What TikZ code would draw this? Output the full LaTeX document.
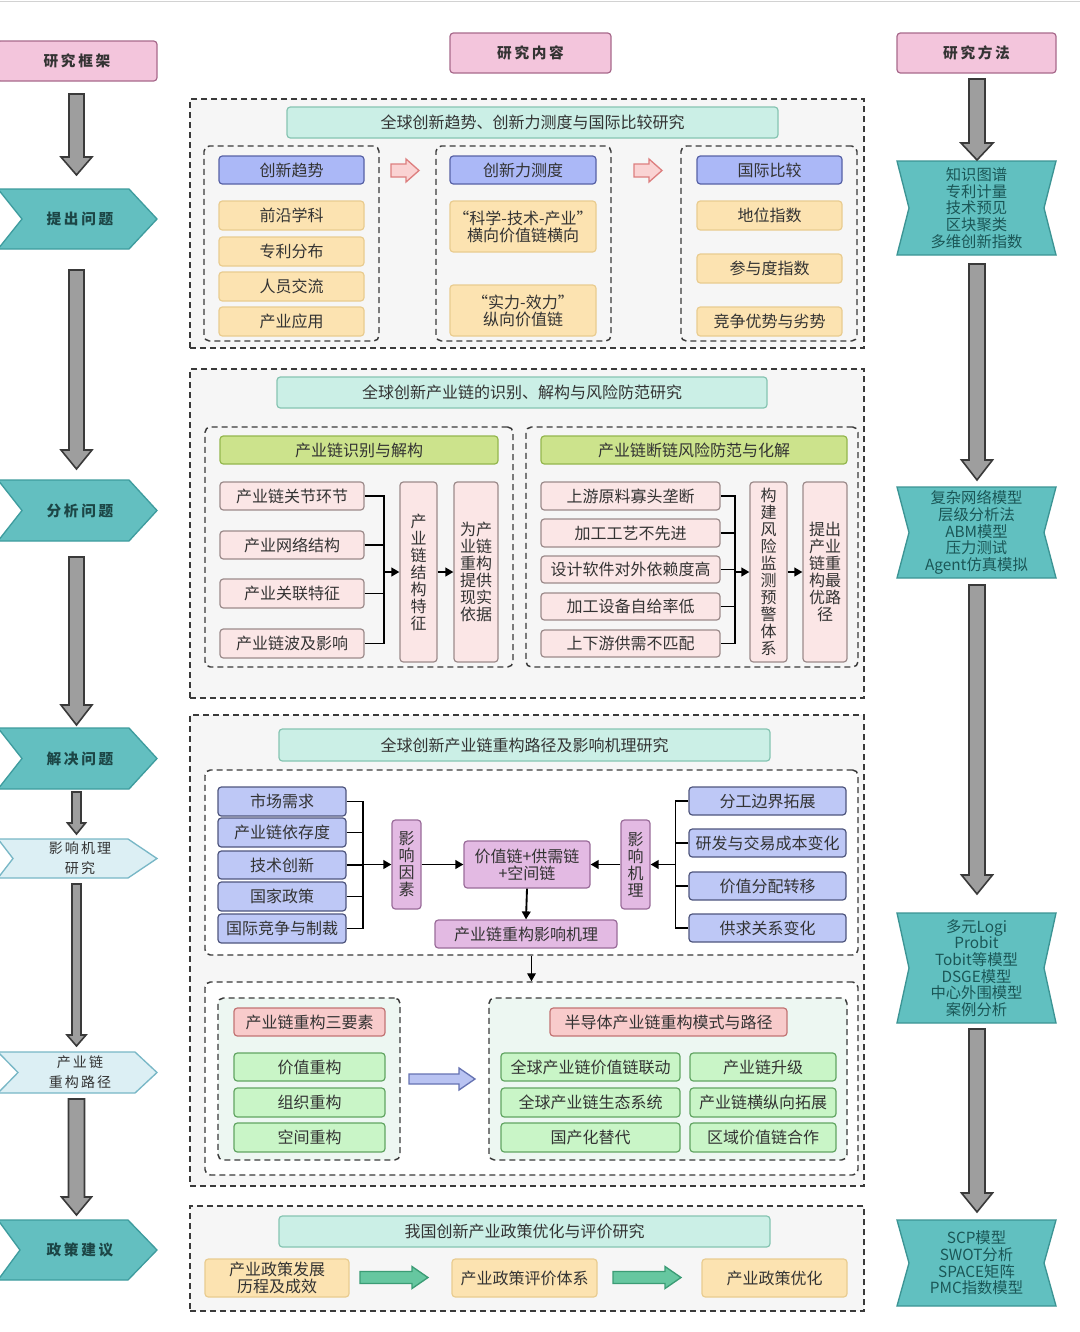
\documentclass[tikz,border=0pt]{standalone}
\usepackage{fontspec}
\setmainfont{Noto Sans CJK SC}
\usetikzlibrary{arrows.meta, positioning, calc}

\definecolor{txt}{HTML}{333333}
\definecolor{headpink}{HTML}{F3C5DC}
\definecolor{headline}{HTML}{A86A8C}
\definecolor{stageteal}{HTML}{63BFC0}
\definecolor{stageline}{HTML}{3E9C9E}
\definecolor{stagetext}{HTML}{1C4646}
\definecolor{stagelight}{HTML}{DCEFF4}
\definecolor{stagelightline}{HTML}{78B7C6}
\definecolor{arrowgray}{HTML}{9E9E9E}
\definecolor{arrowline}{HTML}{3A3A3A}
\definecolor{outergray}{HTML}{F6F6F6}
\definecolor{dashline}{HTML}{3A3A3A}
\definecolor{titlemint}{HTML}{CBEFE6}
\definecolor{titleline}{HTML}{86C4B2}
\definecolor{bluebox}{HTML}{ABB8F7}
\definecolor{blueline}{HTML}{5862A6}
\definecolor{orangebox}{HTML}{FCE3B1}
\definecolor{orangeline}{HTML}{E9CC90}
\definecolor{greenhead}{HTML}{CCE38C}
\definecolor{greenline}{HTML}{94B74E}
\definecolor{rosebox}{HTML}{FBE6E6}
\definecolor{roseline}{HTML}{9C8B8B}
\definecolor{factorblue}{HTML}{BEC8F6}
\definecolor{factorline}{HTML}{4F567E}
\definecolor{purplebox}{HTML}{E3BAE3}
\definecolor{purpleline}{HTML}{9A6C9A}
\definecolor{salmonbox}{HTML}{F8CBCB}
\definecolor{salmonline}{HTML}{C27474}
\definecolor{mintbox}{HTML}{C9F5C7}
\definecolor{mintline}{HTML}{62A563}
\definecolor{groupgreen}{HTML}{EDF7F2}
\definecolor{arrowpink}{HTML}{FAD3D3}
\definecolor{arrowpinkline}{HTML}{DD7F7F}
\definecolor{arrowblue}{HTML}{B9C3F2}
\definecolor{arrowblueline}{HTML}{6673B3}
\definecolor{arrowgreen}{HTML}{66C7A0}
\definecolor{arrowgreenline}{HTML}{3B9C75}
\definecolor{methodteal}{HTML}{61C0C0}
\definecolor{methodline}{HTML}{3C9494}
\definecolor{methodtext}{HTML}{1B5757}

\tikzset{
	every node/.style={text=txt, font=\fontsize{12}{12.75}\selectfont},
	cell/.style={draw, rounded corners=2.5pt, line width=0.9pt, inner sep=0pt, align=center},
	headcell/.style={cell, fill=headpink, draw=headline, font=\fontsize{11}{13}\selectfont\bfseries\addfontfeatures{LetterSpace=18}},
	sectionbox/.style={draw=dashline, fill=outergray, line width=1.1pt, dash pattern=on 4.5pt off 3pt, inner sep=0pt},
	groupbox/.style={sectionbox, rounded corners=4pt},
	groupwhite/.style={groupbox, fill=white},
	groupgreen/.style={groupbox, fill=groupgreen},
	titlecell/.style={cell, fill=titlemint, draw=titleline},
	bluecell/.style={cell, fill=bluebox, draw=blueline},
	orangecell/.style={cell, fill=orangebox, draw=orangeline},
	greencell/.style={cell, fill=greenhead, draw=greenline},
	rosecell/.style={cell, fill=rosebox, draw=roseline},
	factorcell/.style={cell, fill=factorblue, draw=factorline},
	purplecell/.style={cell, fill=purplebox, draw=purpleline},
	salmoncell/.style={cell, fill=salmonbox, draw=salmonline},
	mintcell/.style={cell, fill=mintbox, draw=mintline},
	link/.style={draw=black, line width=1.4pt},
	grayblock/.style={draw=arrowline, fill=arrowgray, line width=1.2pt, line join=miter},
	pinkblock/.style={draw=arrowpinkline, fill=arrowpink, line width=1pt},
	blueblock/.style={draw=arrowblueline, fill=arrowblue, line width=1pt},
	greenblock/.style={draw=arrowgreenline, fill=arrowgreen, line width=1pt},
	teal stage/.style={draw=stageline, fill=stageteal, line width=1pt},
	teal label/.style={text=stagetext, align=center, font=\fontsize{11}{13}\selectfont\bfseries\addfontfeatures{LetterSpace=18}},
	light stage/.style={draw=stagelightline, fill=stagelight, line width=1pt},
	light label/.style={text=txt, align=center, font=\fontsize{10.5}{15}\selectfont\addfontfeatures{LetterSpace=15}},
	methodshape/.style={draw=methodline, fill=methodteal, line width=1pt},
	methodlabel/.style={text=methodtext, align=center, inner sep=0pt, font=\fontsize{11.5}{12.5}\selectfont},
	>={Triangle[length=6pt, width=6.5pt]}
}

% box from corner (x1,y1) to corner (x2,y2), in pixels
\newcommand{\boxat}[7]{\node[#1, minimum width={(#5-#3)*0.75pt}, minimum height={(#6-#4)*0.75pt}] (#2) at ({(#3+#5)/2},{(#4+#6)/2}) {#7};}
% block arrows: style, from, to, shaft half, head half, head length
\newcommand{\blockdown}[6]{\draw[#1] let \p1=(#2), \p2=(#3) in
	({\x1-#4*0.75pt},\y1) -- ({\x1+#4*0.75pt},\y1) -- ({\x1+#4*0.75pt},{\y2+#6*0.75pt}) -- ({\x1+#5*0.75pt},{\y2+#6*0.75pt})
	-- (\x1,\y2) -- ({\x1-#5*0.75pt},{\y2+#6*0.75pt}) -- ({\x1-#4*0.75pt},{\y2+#6*0.75pt}) -- cycle;}
\newcommand{\blockright}[6]{\draw[#1] let \p1=(#2), \p2=(#3) in
	(\x1,{\y1+#4*0.75pt}) -- ({\x2-#6*0.75pt},{\y1+#4*0.75pt}) -- ({\x2-#6*0.75pt},{\y1+#5*0.75pt})
	-- (\x2,\y1) -- ({\x2-#6*0.75pt},{\y1-#5*0.75pt}) -- ({\x2-#6*0.75pt},{\y1-#4*0.75pt}) -- (\x1,{\y1-#4*0.75pt}) -- cycle;}
% chevron of the left column: kind, name, y1, y2, notch, shoulder, text
\newcommand{\stage}[7]{\draw[#1 stage] (-2,#3) -- (#6,#3) -- (157,{(#3+#4)/2}) -- (#6,#4) -- (-2,#4) -- (#5,{(#3+#4)/2}) -- cycle;
	\node[#1 label] (#2) at (80,{(#3+#4)/2}) {#7};}
% notched box of the right column: name, y1, y2, text
\newcommand{\methodbox}[4]{\draw[methodshape] (897,#2) -- (1056,#2) -- (1044,{(#2+#3)/2}) -- (1056,#3) -- (897,#3) -- (909,{(#2+#3)/2}) -- cycle;
	\node[methodlabel] (#1) at (976.5,{(#2+#3)/2}) {#4};}

\begin{document}
\begin{tikzpicture}[x=0.75pt, y=-0.75pt]
	\useasboundingbox (0,0) rectangle (1080,1332);
	\fill[white] (0,0) rectangle (1080,1332);
	\draw[gray!35, line width=1pt] (0,1.5) -- (1080,1.5);
	
	% --- Column headers ---
	\boxat{headcell}{kuangjia}{-3}{41}{157}{81}{研究框架}
	\boxat{headcell}{neirong}{450}{33}{611}{73}{研究内容}
	\boxat{headcell}{fangfa}{897}{33}{1056}{73}{研究方法}
	
	% --- Left column: research framework ---
	\stage{teal}{tichu}{189}{249}{22}{129}{提出问题}
	\stage{teal}{fenxi}{480}{541}{22}{129}{分析问题}
	\stage{teal}{jiejue}{728}{789}{22}{129}{解决问题}
	\stage{light}{jilistage}{839}{878}{13}{128}{影响机理\\研究}
	\stage{light}{lujing}{1052}{1093}{18}{135}{产业链\\重构路径}
	\stage{teal}{zhengce}{1220}{1280}{20}{128}{政策建议}
	
	\coordinate (l1a) at (76.5,94);   \coordinate (l1b) at (76.5,175);
	\coordinate (l2a) at (76.5,270);  \coordinate (l2b) at (76.5,469);
	\coordinate (l3a) at (76.5,557);  \coordinate (l3b) at (76.5,725);
	\coordinate (l4a) at (76.5,792);  \coordinate (l4b) at (76.5,834);
	\coordinate (l5a) at (76.5,884);  \coordinate (l5b) at (76.5,1046);
	\coordinate (l6a) at (76.5,1099); \coordinate (l6b) at (76.5,1215);
	\blockdown{grayblock}{l1a}{l1b}{7.5}{15.5}{18}
	\blockdown{grayblock}{l2a}{l2b}{7.5}{15.5}{19}
	\blockdown{grayblock}{l3a}{l3b}{7.5}{15.5}{20}
	\blockdown{grayblock}{l4a}{l4b}{4.5}{9}{11}
	\blockdown{grayblock}{l5a}{l5b}{4.5}{9.5}{11}
	\blockdown{grayblock}{l6a}{l6b}{8}{15}{18}
	
	% --- Right column: research methods ---
	\methodbox{method1}{161}{255}{知识图谱\\专利计量\\技术预见\\区块聚类\\多维创新指数}
	\methodbox{method2}{487}{578}{复杂网络模型\\层级分析法\\ABM模型\\压力测试\\Agent仿真模拟}
	\methodbox{method3}{913}{1023}{多元Logi\\Probit\\Tobit等模型\\DSGE模型\\中心外围模型\\案例分析}
	\methodbox{method4}{1220}{1306}{SCP模型\\SWOT分析\\SPACE矩阵\\PMC指数模型}
	
	\coordinate (r1a) at (977,79);   \coordinate (r1b) at (977,160);
	\coordinate (r2a) at (977,264);  \coordinate (r2b) at (977,480);
	\coordinate (r3a) at (977,585);  \coordinate (r3b) at (977,894);
	\coordinate (r4a) at (977,1029); \coordinate (r4b) at (977,1212);
	\blockdown{grayblock}{r1a}{r1b}{8}{16}{17}
	\blockdown{grayblock}{r2a}{r2b}{8}{15.5}{20}
	\blockdown{grayblock}{r3a}{r3b}{8}{15.5}{19}
	\blockdown{grayblock}{r4a}{r4b}{8}{15.5}{19}
	
	% --- Section 1 ---
	\boxat{sectionbox}{sec1}{190}{99}{864}{348}{}
	\boxat{titlecell}{sec1title}{287}{107}{778}{138}{全球创新趋势、创新力测度与国际比较研究}
	\boxat{groupbox}{grpA}{204}{146}{379}{341}{}
	\boxat{groupbox}{grpB}{436}{146}{611}{341}{}
	\boxat{groupbox}{grpC}{681}{146}{857}{341}{}
	\boxat{bluecell}{trend}{219}{156}{364}{184}{创新趋势}
	\boxat{orangecell}{trend1}{219}{201}{364}{230}{前沿学科}
	\boxat{orangecell}{trend2}{219}{237}{364}{266}{专利分布}
	\boxat{orangecell}{trend3}{219}{272}{364}{301}{人员交流}
	\boxat{orangecell}{trend4}{219}{307}{364}{336}{产业应用}
	\boxat{bluecell}{measure}{450}{156}{596}{184}{创新力测度}
	\boxat{orangecell}{measure1}{450}{201}{596}{252}{“科学-技术-产业”\\横向价值链横向}
	\boxat{orangecell}{measure2}{450}{285}{596}{336}{“实力-效力”\\纵向价值链}
	\boxat{bluecell}{compare}{697}{156}{842}{184}{国际比较}
	\boxat{orangecell}{compare1}{697}{201}{842}{230}{地位指数}
	\boxat{orangecell}{compare2}{697}{254}{842}{283}{参与度指数}
	\boxat{orangecell}{compare3}{697}{307}{842}{336}{竞争优势与劣势}
	\coordinate (p1a) at (391,170.5); \coordinate (p1b) at (419,170.5);
	\coordinate (p2a) at (634,170.5); \coordinate (p2b) at (662,170.5);
	\blockright{pinkblock}{p1a}{p1b}{6.5}{11.5}{13}
	\blockright{pinkblock}{p2a}{p2b}{6.5}{11.5}{13}
	
	% --- Section 2 ---
	\boxat{sectionbox}{sec2}{190}{369}{864}{698}{}
	\boxat{titlecell}{sec2title}{277}{377}{767}{408}{全球创新产业链的识别、解构与风险防范研究}
	\boxat{groupbox}{grpD}{205}{427}{513}{667}{}
	\boxat{groupbox}{grpE}{526}{427}{858}{667}{}
	\boxat{greencell}{ident}{220}{436}{498}{464}{产业链识别与解构}
	\boxat{greencell}{risk}{541}{436}{847}{464}{产业链断链风险防范与化解}
	
	\boxat{rosecell}{ident1}{220}{482}{364}{510}{产业链关节环节}
	\boxat{rosecell}{ident2}{220}{531}{364}{559}{产业网络结构}
	\boxat{rosecell}{ident3}{220}{579}{364}{608}{产业关联特征}
	\boxat{rosecell}{ident4}{220}{629}{364}{658}{产业链波及影响}
	\boxat{rosecell}{struct}{400}{482}{437}{662}{产\\业\\链\\结\\构\\特\\征}
	\boxat{rosecell}{basis}{454}{482}{498}{662}{为产\\业链\\重构\\提供\\现实\\依据}
	
	\boxat{rosecell}{risk1}{541}{482}{720}{510}{上游原料寡头垄断}
	\boxat{rosecell}{risk2}{541}{519}{720}{547}{加工工艺不先进}
	\boxat{rosecell}{risk3}{541}{556}{720}{583}{设计软件对外依赖度高}
	\boxat{rosecell}{risk4}{541}{593}{720}{620}{加工设备自给率低}
	\boxat{rosecell}{risk5}{541}{630}{720}{657}{上下游供需不匹配}
	\boxat{rosecell}{warn}{750}{482}{787}{662}{构\\建\\风\\险\\监\\测\\预\\警\\体\\系}
	\boxat{rosecell}{optimal}{803}{482}{847}{662}{提出\\产业\\链重\\构最\\优路\\径}
	
	% bus lines into the columns
	\coordinate (busD) at (384,0);
	\draw[link] (ident1.east) -- (ident1.east -| busD) -- (ident4.east -| busD) -- (ident4.east);
	\draw[link] (ident2.east) -- (ident2.east -| busD);
	\draw[link] (ident3.east) -- (ident3.east -| busD);
	\draw[link, ->] (struct.west -| busD) -- (struct.west);
	\draw[link, ->] (struct) -- (basis);
	
	\coordinate (busE) at (735,0);
	\draw[link] (risk1.east) -- (risk1.east -| busE) -- (risk5.east -| busE) -- (risk5.east);
	\foreach \i in {2,3,4}
		\draw[link] (risk\i.east) -- (risk\i.east -| busE);
	\draw[link, ->] (warn.west -| busE) -- (warn.west);
	\draw[link, ->] (warn) -- (optimal);
	
	% --- Section 3 ---
	\boxat{sectionbox}{sec3}{190}{715}{864}{1186}{}
	\boxat{titlecell}{sec3title}{279}{729}{770}{761}{全球创新产业链重构路径及影响机理研究}
	\boxat{groupwhite}{grpF}{205}{770}{858}{955}{}
	
	\boxat{factorcell}{factor1}{218}{787}{346}{816}{市场需求}
	\boxat{factorcell}{factor2}{218}{818}{346}{847}{产业链依存度}
	\boxat{factorcell}{factor3}{218}{851}{346}{879}{技术创新}
	\boxat{factorcell}{factor4}{218}{882}{346}{911}{国家政策}
	\boxat{factorcell}{factor5}{218}{914}{346}{943}{国际竞争与制裁}
	\boxat{purplecell}{yinsu}{392}{820}{421}{909}{影\\响\\因\\素}
	\boxat{purplecell}{core}{464}{841}{590}{888}{价值链+供需链\\+空间链}
	\boxat{purplecell}{mech}{435}{920}{617}{948}{产业链重构影响机理}
	\boxat{purplecell}{jili}{621}{820}{650}{909}{影\\响\\机\\理}
	\boxat{factorcell}{path1}{689}{787}{846}{815}{分工边界拓展}
	\boxat{factorcell}{path2}{689}{829}{846}{857}{研发与交易成本变化}
	\boxat{factorcell}{path3}{689}{872}{846}{900}{价值分配转移}
	\boxat{factorcell}{path4}{689}{914}{846}{942}{供求关系变化}
	
	\coordinate (busF) at (363,0);
	\draw[link] (factor1.east) -- (factor1.east -| busF) -- (factor5.east -| busF) -- (factor5.east);
	\foreach \i in {2,3,4}
		\draw[link] (factor\i.east) -- (factor\i.east -| busF);
	\draw[link, ->] (yinsu.west -| busF) -- (yinsu.west);
	\draw[link, ->] (yinsu.east) -- (core.west |- yinsu.east);
	
	\coordinate (busG) at (675.5,0);
	\draw[link] (path1.west) -- (path1.west -| busG) -- (path4.west -| busG) -- (path4.west);
	\foreach \i in {2,3}
		\draw[link] (path\i.west) -- (path\i.west -| busG);
	\draw[link, ->] (jili.east -| busG) -- (jili.east);
	\draw[link, ->] (jili.west) -- (core.east |- jili.west);
	\draw[link, ->] (core.south) -- (mech.north);
	
	\boxat{groupwhite}{grpG}{205}{982}{858}{1175}{}
	\draw[link, line width=1pt, ->] (grpF.south) -- (grpG.north);
	\boxat{groupgreen}{grpH}{218}{998}{400}{1160}{}
	\boxat{groupgreen}{grpI}{489}{998}{847}{1160}{}
	\boxat{salmoncell}{three}{234}{1008}{385}{1036}{产业链重构三要素}
	\boxat{mintcell}{three1}{234}{1053}{385}{1081}{价值重构}
	\boxat{mintcell}{three2}{234}{1088}{385}{1117}{组织重构}
	\boxat{mintcell}{three3}{234}{1123}{385}{1152}{空间重构}
	\boxat{salmoncell}{mode}{550}{1008}{787}{1036}{半导体产业链重构模式与路径}
	\boxat{mintcell}{mode1}{501}{1053}{680}{1081}{全球产业链价值链联动}
	\boxat{mintcell}{mode2}{690}{1053}{836}{1081}{产业链升级}
	\boxat{mintcell}{mode3}{501}{1088}{680}{1117}{全球产业链生态系统}
	\boxat{mintcell}{mode4}{690}{1088}{836}{1117}{产业链横纵向拓展}
	\boxat{mintcell}{mode5}{501}{1123}{680}{1152}{国产化替代}
	\boxat{mintcell}{mode6}{690}{1123}{836}{1152}{区域价值链合作}
	\coordinate (b1a) at (409,1079); \coordinate (b1b) at (475,1079);
	\blockright{blueblock}{b1a}{b1b}{5}{11}{16}
	
	% --- Section 4 ---
	\boxat{sectionbox}{sec4}{190}{1206}{864}{1311}{}
	\boxat{titlecell}{sec4title}{279}{1216}{770}{1247}{我国创新产业政策优化与评价研究}
	\boxat{orangecell}{policy1}{205}{1259}{349}{1297}{产业政策发展\\历程及成效}
	\boxat{orangecell}{policy2}{452}{1259}{597}{1297}{产业政策评价体系}
	\boxat{orangecell}{policy3}{702}{1259}{847}{1297}{产业政策优化}
	\coordinate (g1a) at (360,1277.5); \coordinate (g1b) at (428,1277.5);
	\coordinate (g2a) at (613,1277.5); \coordinate (g2b) at (681,1277.5);
	\blockright{greenblock}{g1a}{g1b}{6}{11}{16}
	\blockright{greenblock}{g2a}{g2b}{6}{11}{16}
\end{tikzpicture}
\end{document}
